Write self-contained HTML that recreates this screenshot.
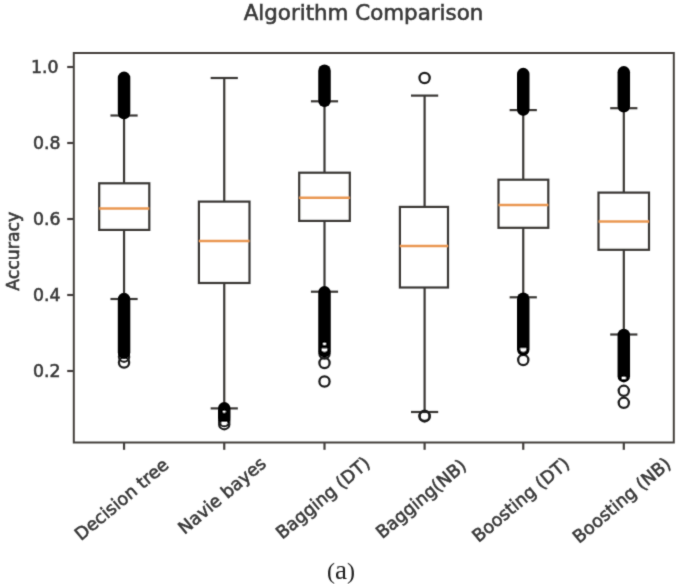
<!DOCTYPE html>
<html><head><meta charset="utf-8"><title>Algorithm Comparison</title>
<style>
html,body{margin:0;padding:0;background:#fff;}
body{width:685px;height:584px;overflow:hidden;}
svg{display:block;}
text{font-family:"DejaVu Sans","Liberation Sans",sans-serif;fill:#3a3a3a;stroke:#3a3a3a;stroke-width:0.6px;}
.tk{font-size:17.3px;}
.xl{font-size:17.6px;}
.yl{font-size:17.3px;}
.ti{font-size:21.4px;}
.cap{font-family:"Liberation Serif","DejaVu Serif",serif;font-size:24px;fill:#222;stroke:none;}
</style></head>
<body>
<svg width="685" height="584" viewBox="0 0 685 584">
<defs><filter id="bl" x="0" y="0" width="685" height="584" filterUnits="userSpaceOnUse"><feConvolveMatrix order="3" kernelMatrix="0.01690 0.09620 0.01690 0.09620 0.54760 0.09620 0.01690 0.09620 0.01690" divisor="1" edgeMode="none" preserveAlpha="false"/></filter></defs>
<rect width="685" height="584" fill="#fff"/>
<g filter="url(#bl)">
<rect x="73.8" y="53.0" width="600.0" height="389.5" fill="none" stroke="#45413e" stroke-width="2.0"/>
<line x1="67.20" y1="67.00" x2="73.80" y2="67.00" stroke="#45413e" stroke-width="2.2"/>
<text x="58.60" y="73.40" text-anchor="end" class="tk">1.0</text>
<line x1="67.20" y1="143.00" x2="73.80" y2="143.00" stroke="#45413e" stroke-width="2.2"/>
<text x="60.40" y="149.40" text-anchor="end" class="tk">0.8</text>
<line x1="67.20" y1="219.00" x2="73.80" y2="219.00" stroke="#45413e" stroke-width="2.2"/>
<text x="60.40" y="225.40" text-anchor="end" class="tk">0.6</text>
<line x1="67.20" y1="295.00" x2="73.80" y2="295.00" stroke="#45413e" stroke-width="2.2"/>
<text x="60.40" y="301.40" text-anchor="end" class="tk">0.4</text>
<line x1="67.20" y1="371.00" x2="73.80" y2="371.00" stroke="#45413e" stroke-width="2.2"/>
<text x="60.40" y="377.40" text-anchor="end" class="tk">0.2</text>
<line x1="124.05" y1="442.5" x2="124.05" y2="449.80" stroke="#45413e" stroke-width="2.2"/>
<line x1="224.25" y1="442.5" x2="224.25" y2="449.80" stroke="#45413e" stroke-width="2.2"/>
<line x1="324.5" y1="442.5" x2="324.5" y2="449.80" stroke="#45413e" stroke-width="2.2"/>
<line x1="424.6" y1="442.5" x2="424.6" y2="449.80" stroke="#45413e" stroke-width="2.2"/>
<line x1="523.25" y1="442.5" x2="523.25" y2="449.80" stroke="#45413e" stroke-width="2.2"/>
<line x1="623.8" y1="442.5" x2="623.8" y2="449.80" stroke="#45413e" stroke-width="2.2"/>
<rect x="99.2" y="183.3" width="50.10" height="46.60" fill="none" stroke="#3a3836" stroke-width="2.2"/>
<line x1="124.05" y1="183.3" x2="124.05" y2="115.5" stroke="#3a3836" stroke-width="2.2"/>
<line x1="124.05" y1="229.9" x2="124.05" y2="299.0" stroke="#3a3836" stroke-width="2.2"/>
<line x1="111.55" y1="115.5" x2="136.55" y2="115.5" stroke="#3a3836" stroke-width="2.2" stroke-linecap="square"/>
<line x1="111.55" y1="299.0" x2="136.55" y2="299.0" stroke="#3a3836" stroke-width="2.2" stroke-linecap="square"/>
<line x1="99.2" y1="208.4" x2="149.3" y2="208.4" stroke="#ea9852" stroke-width="2.5"/>
<circle cx="124.05" cy="356.7" r="5.1" fill="none" stroke="#1e1e1e" stroke-width="2.3"/>
<circle cx="124.05" cy="362.5" r="5.1" fill="none" stroke="#1e1e1e" stroke-width="2.3"/>
<rect x="117.80" y="71.55" width="12.50" height="47.90" rx="6.25" ry="6.25" fill="#000"/>
<rect x="117.80" y="292.85" width="12.50" height="65.90" rx="6.25" ry="6.25" fill="#000"/>
<rect x="198.9" y="201.6" width="50.60" height="81.40" fill="none" stroke="#3a3836" stroke-width="2.2"/>
<line x1="224.25" y1="201.6" x2="224.25" y2="78.0" stroke="#3a3836" stroke-width="2.2"/>
<line x1="224.25" y1="283.0" x2="224.25" y2="408.4" stroke="#3a3836" stroke-width="2.2"/>
<line x1="211.75" y1="78.0" x2="236.75" y2="78.0" stroke="#3a3836" stroke-width="2.2" stroke-linecap="square"/>
<line x1="211.75" y1="408.4" x2="236.75" y2="408.4" stroke="#3a3836" stroke-width="2.2" stroke-linecap="square"/>
<line x1="198.9" y1="240.9" x2="249.5" y2="240.9" stroke="#ea9852" stroke-width="2.5"/>
<circle cx="224.25" cy="421.0" r="5.1" fill="none" stroke="#1e1e1e" stroke-width="2.3"/>
<circle cx="224.25" cy="424.2" r="5.1" fill="none" stroke="#1e1e1e" stroke-width="2.3"/>
<rect x="218.00" y="402.05" width="12.50" height="22.20" rx="6.25" ry="6.25" fill="#000"/>
<ellipse cx="224.25" cy="411.8" rx="1.5" ry="1.0" fill="#fff"/>
<path d="M221.35,422.0 A2.9,3.1 0 0 0 227.15,422.0 Z" fill="#fff"/>
<rect x="299.2" y="172.7" width="50.60" height="48.20" fill="none" stroke="#3a3836" stroke-width="2.2"/>
<line x1="324.5" y1="172.7" x2="324.5" y2="101.3" stroke="#3a3836" stroke-width="2.2"/>
<line x1="324.5" y1="220.9" x2="324.5" y2="291.7" stroke="#3a3836" stroke-width="2.2"/>
<line x1="312.0" y1="101.3" x2="337.0" y2="101.3" stroke="#3a3836" stroke-width="2.2" stroke-linecap="square"/>
<line x1="312.0" y1="291.7" x2="337.0" y2="291.7" stroke="#3a3836" stroke-width="2.2" stroke-linecap="square"/>
<line x1="299.2" y1="197.8" x2="349.8" y2="197.8" stroke="#ea9852" stroke-width="2.5"/>
<circle cx="324.5" cy="353.5" r="5.1" fill="none" stroke="#1e1e1e" stroke-width="2.3"/>
<circle cx="324.5" cy="363.0" r="5.1" fill="none" stroke="#1e1e1e" stroke-width="2.3"/>
<circle cx="324.5" cy="381.5" r="5.1" fill="none" stroke="#1e1e1e" stroke-width="2.3"/>
<rect x="318.25" y="64.45" width="12.50" height="42.70" rx="6.25" ry="6.25" fill="#000"/>
<rect x="318.25" y="286.05" width="12.50" height="71.20" rx="6.25" ry="6.25" fill="#000"/>
<ellipse cx="324.5" cy="343.9" rx="1.6" ry="1.1" fill="#fff"/>
<path d="M321.70,348.4 A2.8,3.3 0 0 0 327.30,348.4 Z" fill="#fff"/>
<rect x="399.9" y="206.9" width="48.10" height="80.60" fill="none" stroke="#3a3836" stroke-width="2.2"/>
<line x1="424.6" y1="206.9" x2="424.6" y2="95.6" stroke="#3a3836" stroke-width="2.2"/>
<line x1="424.6" y1="287.5" x2="424.6" y2="412.0" stroke="#3a3836" stroke-width="2.2"/>
<line x1="412.1" y1="95.6" x2="437.1" y2="95.6" stroke="#3a3836" stroke-width="2.2" stroke-linecap="square"/>
<line x1="412.1" y1="412.0" x2="437.1" y2="412.0" stroke="#3a3836" stroke-width="2.2" stroke-linecap="square"/>
<line x1="399.9" y1="245.9" x2="448.0" y2="245.9" stroke="#ea9852" stroke-width="2.5"/>
<circle cx="424.6" cy="78.0" r="5.1" fill="none" stroke="#1e1e1e" stroke-width="2.3"/>
<circle cx="424.6" cy="415.8" r="5.1" fill="none" stroke="#1e1e1e" stroke-width="2.3"/>
<circle cx="424.6" cy="416.4" r="5.1" fill="none" stroke="#1e1e1e" stroke-width="2.3"/>
<rect x="498.5" y="179.7" width="49.80" height="48.10" fill="none" stroke="#3a3836" stroke-width="2.2"/>
<line x1="523.25" y1="179.7" x2="523.25" y2="110.1" stroke="#3a3836" stroke-width="2.2"/>
<line x1="523.25" y1="227.8" x2="523.25" y2="297.3" stroke="#3a3836" stroke-width="2.2"/>
<line x1="510.75" y1="110.1" x2="535.75" y2="110.1" stroke="#3a3836" stroke-width="2.2" stroke-linecap="square"/>
<line x1="510.75" y1="297.3" x2="535.75" y2="297.3" stroke="#3a3836" stroke-width="2.2" stroke-linecap="square"/>
<line x1="498.5" y1="205.1" x2="548.3" y2="205.1" stroke="#ea9852" stroke-width="2.5"/>
<circle cx="523.25" cy="360.0" r="5.1" fill="none" stroke="#1e1e1e" stroke-width="2.3"/>
<rect x="517.00" y="67.85" width="12.50" height="48.10" rx="6.25" ry="6.25" fill="#000"/>
<rect x="517.00" y="292.45" width="12.50" height="63.30" rx="6.25" ry="6.25" fill="#000"/>
<path d="M520.25,348.3 A3.0,3.5 0 0 0 526.25,348.3 Z" fill="#fff"/>
<rect x="598.5" y="192.6" width="50.50" height="57.20" fill="none" stroke="#3a3836" stroke-width="2.2"/>
<line x1="623.8" y1="192.6" x2="623.8" y2="108.2" stroke="#3a3836" stroke-width="2.2"/>
<line x1="623.8" y1="249.8" x2="623.8" y2="334.5" stroke="#3a3836" stroke-width="2.2"/>
<line x1="611.3" y1="108.2" x2="636.3" y2="108.2" stroke="#3a3836" stroke-width="2.2" stroke-linecap="square"/>
<line x1="611.3" y1="334.5" x2="636.3" y2="334.5" stroke="#3a3836" stroke-width="2.2" stroke-linecap="square"/>
<line x1="598.5" y1="221.6" x2="649.0" y2="221.6" stroke="#ea9852" stroke-width="2.5"/>
<circle cx="623.8" cy="390.8" r="5.1" fill="none" stroke="#1e1e1e" stroke-width="2.3"/>
<circle cx="623.8" cy="402.8" r="5.1" fill="none" stroke="#1e1e1e" stroke-width="2.3"/>
<rect x="617.55" y="66.05" width="12.50" height="46.50" rx="6.25" ry="6.25" fill="#000"/>
<rect x="617.55" y="328.65" width="12.50" height="53.80" rx="6.25" ry="6.25" fill="#000"/>
<ellipse cx="623.8" cy="377.9" rx="2.2" ry="1.2" fill="#fff"/>
<text class="xl" transform="translate(121.60,499.40) rotate(-40)" text-anchor="middle" dominant-baseline="central">Decision tree</text>
<text class="xl" transform="translate(222.00,495.60) rotate(-40)" text-anchor="middle" dominant-baseline="central">Navie bayes</text>
<text class="xl" transform="translate(322.90,497.90) rotate(-40)" text-anchor="middle" dominant-baseline="central">Bagging (DT)</text>
<text class="xl" transform="translate(421.10,498.80) rotate(-40)" text-anchor="middle" dominant-baseline="central">Bagging(NB)</text>
<text class="xl" transform="translate(520.70,499.70) rotate(-40)" text-anchor="middle" dominant-baseline="central">Boosting (DT)</text>
<text class="xl" transform="translate(621.60,500.30) rotate(-40)" text-anchor="middle" dominant-baseline="central">Boosting (NB)</text>
<text x="363.5" y="19.7" text-anchor="middle" class="ti">Algorithm Comparison</text>
<text class="yl" transform="translate(18.8,251.2) rotate(-90)" text-anchor="middle">Accuracy</text>
<text x="341" y="578.7" text-anchor="middle" class="cap">(<tspan style="font-size:27px">a</tspan>)</text>
</g>
</svg>
</body></html>
